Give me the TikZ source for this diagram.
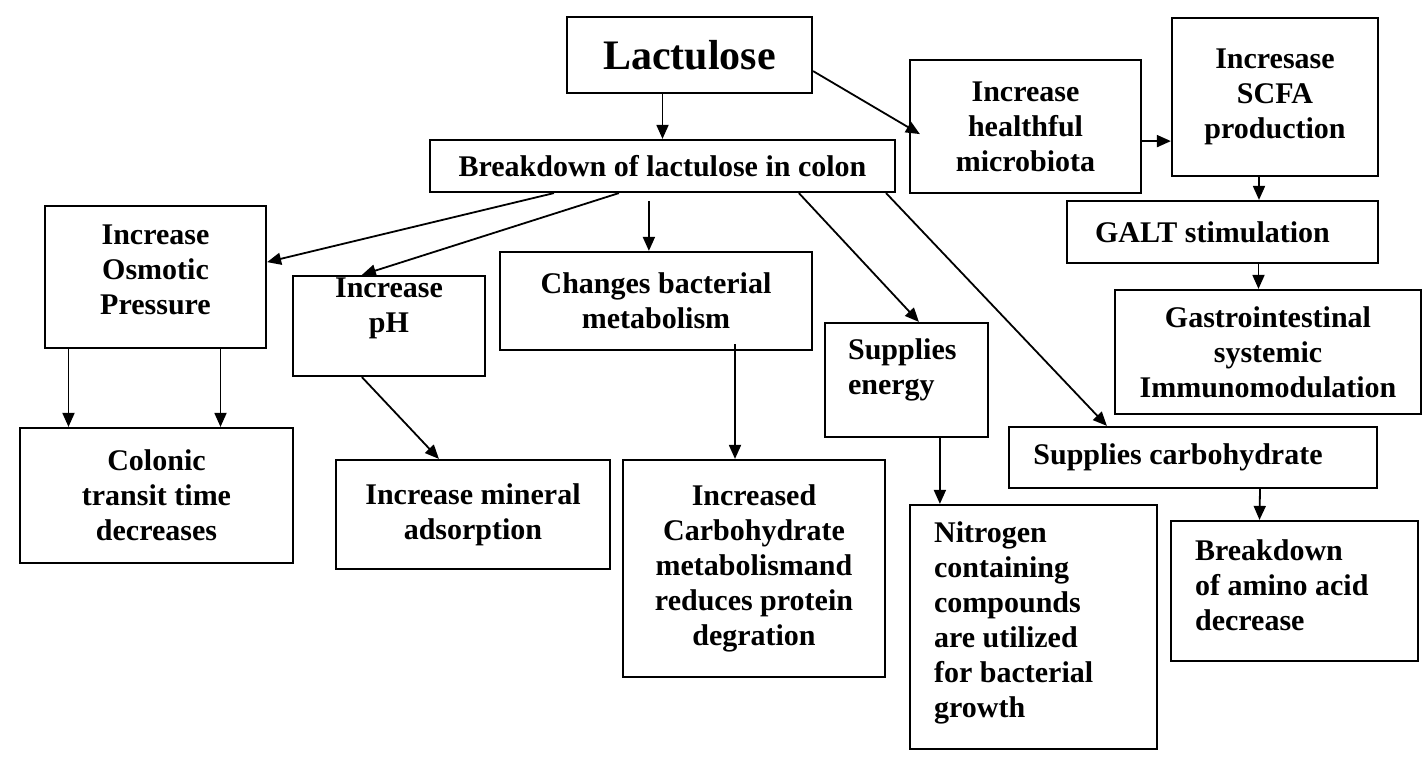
\documentclass[tikz,border=0pt]{standalone}
\usepackage{fontspec}
\setmainfont{Liberation Serif}
\usetikzlibrary{arrows.meta}
\begin{document}
\begin{tikzpicture}[x=1pt,y=-1pt,
 bx/.style={draw,line width=2.2pt,font=\fontsize{30}{35}\selectfont\bfseries,align=center,inner sep=0pt},
 tx/.style={font=\fontsize{30}{35}\selectfont\bfseries,inner sep=0pt},
 ar/.style={line width=1.8pt,-{Triangle[length=14pt,width=12pt]}}]
\useasboundingbox (0,0) rectangle (1425,769);
\node[bx,minimum width=245,minimum height=76,font=\fontsize{42}{48}\selectfont\bfseries] (lac) at (689.5,55) {Lactulose};
\node[bx,minimum width=465,minimum height=52] (brk) at (662.5,166) {Breakdown of lactulose in colon};
\node[bx,minimum width=231,minimum height=133] (mic) at (1025.5,126.5) {Increase\\healthful\\microbiota};
\node[bx,minimum width=206,minimum height=158] (scfa) at (1275,97) {Incresase\\SCFA\\production};
\node[bx,minimum width=311,minimum height=62] (galt) at (1222.5,232) {GALT stimulation\hspace{20pt}};
\node[bx,minimum width=306,minimum height=124] (gas) at (1268,352) {Gastrointestinal\\systemic\\Immunomodulation};
\node[bx,minimum width=221,minimum height=142] (osm) at (155.5,277) {};
\node[tx,align=center] (osmt) at ([yshift=7pt]osm.center) {Increase\\Osmotic\\Pressure};
\node[bx,minimum width=192,minimum height=100] (ph) at (389,326) {};
\node[tx,align=center] (pht) at ([yshift=18pt]ph.center) {Increase\\pH};
\node[bx,minimum width=312,minimum height=98] (chg) at (656,301) {Changes bacterial\\metabolism};
\node[bx,minimum width=163,minimum height=114] (eng) at (906.5,380) {};
\node[tx,align=left,anchor=west] (engt) at ([xshift=24pt,yshift=10pt]eng.west) {Supplies\\energy};
\node[bx,minimum width=368,minimum height=61] (carb) at (1193,457.5) {Supplies carbohydrate\hspace{30pt}};
\node[bx,minimum width=273,minimum height=135] (col) at (156.5,495.5) {Colonic\\transit time\\decreases};
\node[bx,minimum width=274,minimum height=109] (min) at (473,514.5) {Increase mineral\\adsorption};
\node[bx,minimum width=262,minimum height=217] (inc) at (754,568.5) {Increased\\Carbohydrate\\metabolismand\\reduces protein\\degration};
\node[bx,minimum width=247,minimum height=244] (nit) at (1033.5,627) {};
\node[tx,align=left,anchor=west] (nitt) at ([xshift=25pt,yshift=4pt]nit.west) {Nitrogen\\containing\\compounds\\are utilized\\for bacterial\\growth};
\node[bx,minimum width=247,minimum height=140] (ami) at (1294.5,591) {};
\node[tx,align=left,anchor=west] (amit) at ([xshift=25pt,yshift=6pt]ami.west) {Breakdown\\of amino acid\\decrease};
\draw[ar] ([xshift=-27pt]lac.south) -- ([xshift=-27pt]lac.south |- brk.north);
\draw[ar] ([yshift=23pt]lac.south east) -- ([xshift=11pt,yshift=60pt]mic.south west);
\draw[ar] ([yshift=53pt]mic.south east) -- ([yshift=53pt]mic.south east -| scfa.west);
\draw[ar] ([xshift=-16pt]scfa.south) -- ([xshift=-16pt]scfa.south |- galt.north);
\draw[ar] ([xshift=36pt]galt.south) -- ([xshift=36pt]galt.south |- gas.north);
\draw[ar] ([xshift=125pt]brk.south west) -- ([yshift=87pt]osm.south east);
\draw[ar] ([xshift=190pt]brk.south west) -- ([xshift=70pt]ph.north west);
\draw[ar] ([xshift=220pt,yshift=-8pt]brk.south west) -- ([xshift=150pt]chg.north west);
\draw[ar] ([xshift=370pt]brk.south west) -- ([xshift=95pt]eng.north west);
\draw[ar] ([xshift=-10pt]brk.south east) -- ([xshift=99pt]carb.north west);
\draw[ar] ([xshift=-87pt]osm.south) -- ([xshift=-87pt]osm.south |- col.north);
\draw[ar] ([xshift=65pt]osm.south) -- ([xshift=65pt]osm.south |- col.north);
\draw[ar] ([xshift=70pt]ph.south west) -- ([xshift=104pt]min.north west);
\draw[ar] ([xshift=79pt,yshift=7pt]chg.south) -- ([xshift=-19pt]inc.north);
\draw[ar] ([xshift=116pt]eng.south west) -- ([xshift=31pt]nit.north west);
\draw[ar] ([xshift=67pt]carb.south) -- ([xshift=-35pt]ami.north);
\end{tikzpicture}
\end{document}
